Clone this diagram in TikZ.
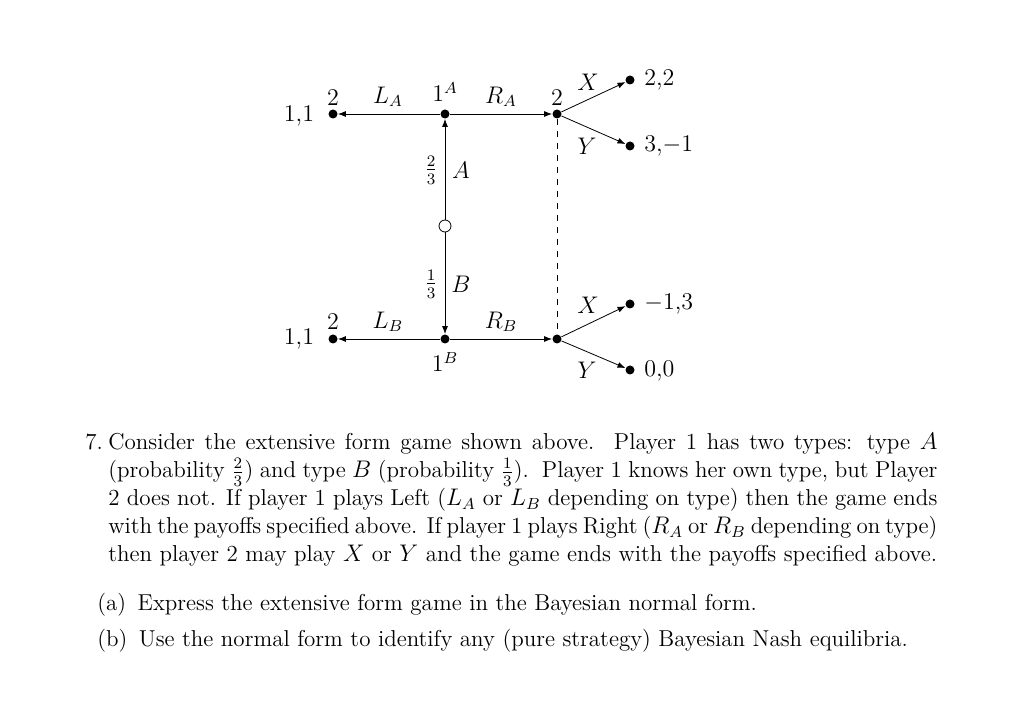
\documentclass[tikz,border=0pt]{standalone}
\usetikzlibrary{arrows.meta}
\begin{document}
\begin{tikzpicture}[x=0.5pt,y=-0.5pt,
  dot/.style={circle,fill,inner sep=0pt,minimum size=4.5pt},
  odot/.style={circle,draw,fill=white,inner sep=0pt,minimum size=6pt},
  edge/.style={-{Latex[length=4pt,width=3pt]},thin},
  lbl/.style={inner sep=1pt,font=\fontsize{12}{14}\selectfont},
  ln/.style={anchor=base west,inner sep=0pt,font=\fontsize{11.5}{14}\selectfont}]
\useasboundingbox (0,0) rectangle (1024,721);
\node[dot] (a) at (445,114) {};
\node[dot] (la) at (333,114) {};
\node[dot] (ra) at (557,114) {};
\node[odot] (c) at (445,226) {};
\node[dot] (b) at (445,339) {};
\node[dot] (lb) at (333,339) {};
\node[dot] (rb) at (557,339) {};
\node[dot] (xa) at (630,80) {};
\node[dot] (ya) at (630,146) {};
\node[dot] (xb) at (630,304) {};
\node[dot] (yb) at (630,370) {};
\draw[edge] (a) -- (la);
\draw[edge] (a) -- (ra);
\draw[edge] (b) -- (lb);
\draw[edge] (b) -- (rb);
\draw[edge] (c) -- (a);
\draw[edge] (c) -- (b);
\draw[edge] (ra) -- (xa);
\draw[edge] (ra) -- (ya);
\draw[edge] (rb) -- (xb);
\draw[edge] (rb) -- (yb);
\draw[dashed,thin] (ra) -- (rb);
\node[lbl] (p1) at (299,116) {1,1};
\node[lbl] (p2) at (299,339) {1,1};
\node[lbl] (t1) at (333,98) {2};
\node[lbl] (t2) at (333,322) {2};
\node[lbl] (t3) at (557,98) {2};
\node[lbl] (n1) at (445,92) {$1^A$};
\node[lbl] (n2) at (445,362) {$1^B$};
\node[lbl] (e1) at (388,97) {$L_A$};
\node[lbl] (e2) at (501,97) {$R_A$};
\node[lbl] (e3) at (388,322) {$L_B$};
\node[lbl] (e4) at (501,322) {$R_B$};
\node[lbl] (x1) at (588,82) {$X$};
\node[lbl] (y1) at (587,146) {$Y$};
\node[lbl] (x2) at (588,305) {$X$};
\node[lbl] (y2) at (587,370) {$Y$};
\node[lbl] (f1) at (431,170) {$\frac23$};
\node[lbl] (f2) at (431,284) {$\frac13$};
\node[lbl] (ta) at (461,170) {$A$};
\node[lbl] (tb) at (461,284) {$B$};
\node[lbl,anchor=west] (v1) at (642,80) {2,2};
\node[lbl,anchor=west] (v2) at (642,146) {3,$-1$};
\node[lbl,anchor=west] (v3) at (642,304) {$-1$,3};
\node[lbl,anchor=west] (v4) at (642,371) {0,0};
\node[ln] (num) at (85,450) {7.};
\node[ln] (l1) at (108,450) {\makebox[414.5pt][s]{Consider the extensive form game shown above.\ \ Player 1 has two types: type $A$}};
\node[ln] (l2) at (108,478) {\makebox[414.5pt][s]{(probability $\frac23$) and type $B$ (probability $\frac13$).\ \ Player 1 knows her own type, but Player}};
\node[ln] (l3) at (108,506) {\makebox[414.5pt][s]{2 does not. If player 1 plays Left ($L_A$ or $L_B$ depending on type) then the game ends}};
\node[ln] (l4) at (108,534) {\makebox[414.5pt][s]{with the payoffs specified above. If player 1 plays Right ($R_A$ or $R_B$ depending on type)}};
\node[ln] (l5) at (108,562) {then player 2 may play $X$ or $Y$ and the game ends with the payoffs specified above.};
\node[ln] (qa) at (97,611) {(a)\enspace Express the extensive form game in the Bayesian normal form.};
\node[ln] (qb) at (97,647) {(b)\enspace Use the normal form to identify any (pure strategy) Bayesian Nash equilibria.};
\end{tikzpicture}
\end{document}
